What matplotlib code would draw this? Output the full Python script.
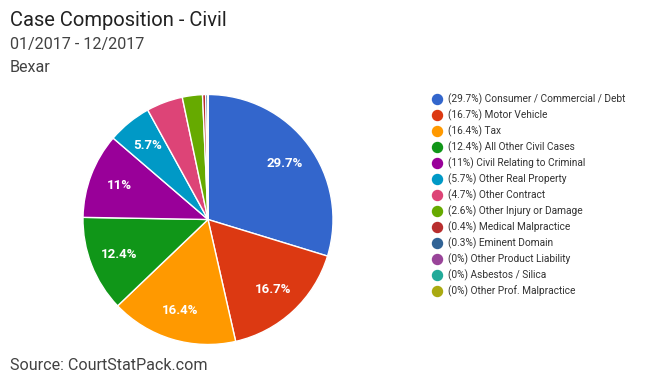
import matplotlib
matplotlib.use("Agg")
import matplotlib.pyplot as plt
import numpy as np

plt.rcParams['font.family'] = ['Roboto', 'DejaVu Sans']

categories = ["Consumer / Commercial / Debt", "Motor Vehicle", "Tax", "All Other Civil Cases",
              "Civil Relating to Criminal", "Other Real Property", "Other Contract",
              "Other Injury or Damage", "Medical Malpractice", "Eminent Domain",
              "Other Product Liability", "Asbestos / Silica", "Other Prof. Malpractice"]
values = [29.7, 16.7, 16.4, 12.4, 11, 5.7, 4.7, 2.6, 0.4, 0.3, 0, 0, 0]
value_labels = ["29.7%", "16.7%", "16.4%", "12.4%", "11%", "5.7%", "4.7%", "2.6%",
                "0.4%", "0.3%", "0%", "0%", "0%"]
colors = ["#3366cc", "#dc3912", "#ff9900", "#109618", "#990099", "#0099c6", "#dd4477",
          "#66aa00", "#b82e2e", "#316395", "#994499", "#22aa99", "#aaaa11"]

W, H = 671, 381
fig = plt.figure(figsize=(W / 100, H / 100), dpi=100)

cx, cy, r = 208, 219.5, 125
ax = fig.add_axes([(cx - r) / W, (H - cy - r) / H, 2 * r / W, 2 * r / H])
wedges, _ = ax.pie(values, colors=colors, startangle=90, counterclock=False, radius=1,
                   wedgeprops=dict(edgecolor="white", linewidth=1))
ax.set_xlim(-1, 1)
ax.set_ylim(-1, 1)
ax.axis("off")

total = sum(values)
cum = 0
for v, lab in zip(values, value_labels):
    if v / total >= 0.05:
        mid = cum + v / 2
        ang = np.deg2rad(90 - 360 * mid / total)
        ax.text(0.76 * np.cos(ang), 0.76 * np.sin(ang), lab, color="white",
                fontsize=9.5, fontweight="bold", ha="center", va="center")
    cum += v

# Titles
fig.text(10 / W, 1 - 20 / H, "Case Composition - Civil", fontsize=14.5, color="#212121",
         ha="left", va="center")
fig.text(10 / W, 1 - 45 / H, "01/2017 - 12/2017", fontsize=11.6, color="#424242",
         ha="left", va="center")
fig.text(10 / W, 1 - 67 / H, "Bexar", fontsize=11.6, color="#424242", ha="left", va="center")
fig.text(10 / W, 1 - 365 / H, "Source: CourtStatPack.com", fontsize=11.6, color="#424242",
         ha="left", va="center")

# Legend
for i, (c, name, lab) in enumerate(zip(colors, categories, value_labels)):
    y = 99.5 + i * 16.0
    fig.patches.append(matplotlib.patches.Ellipse((437.5 / W, 1 - y / H), 10 / W, 10 / H,
                                                  transform=fig.transFigure, color=c,
                                                  figure=fig))
    fig.text(448 / W, 1 - y / H, f"({lab}) {name}", fontsize=7.3, color="#333333",
             ha="left", va="center")

fig.savefig("out.png", dpi=100, facecolor="white")
